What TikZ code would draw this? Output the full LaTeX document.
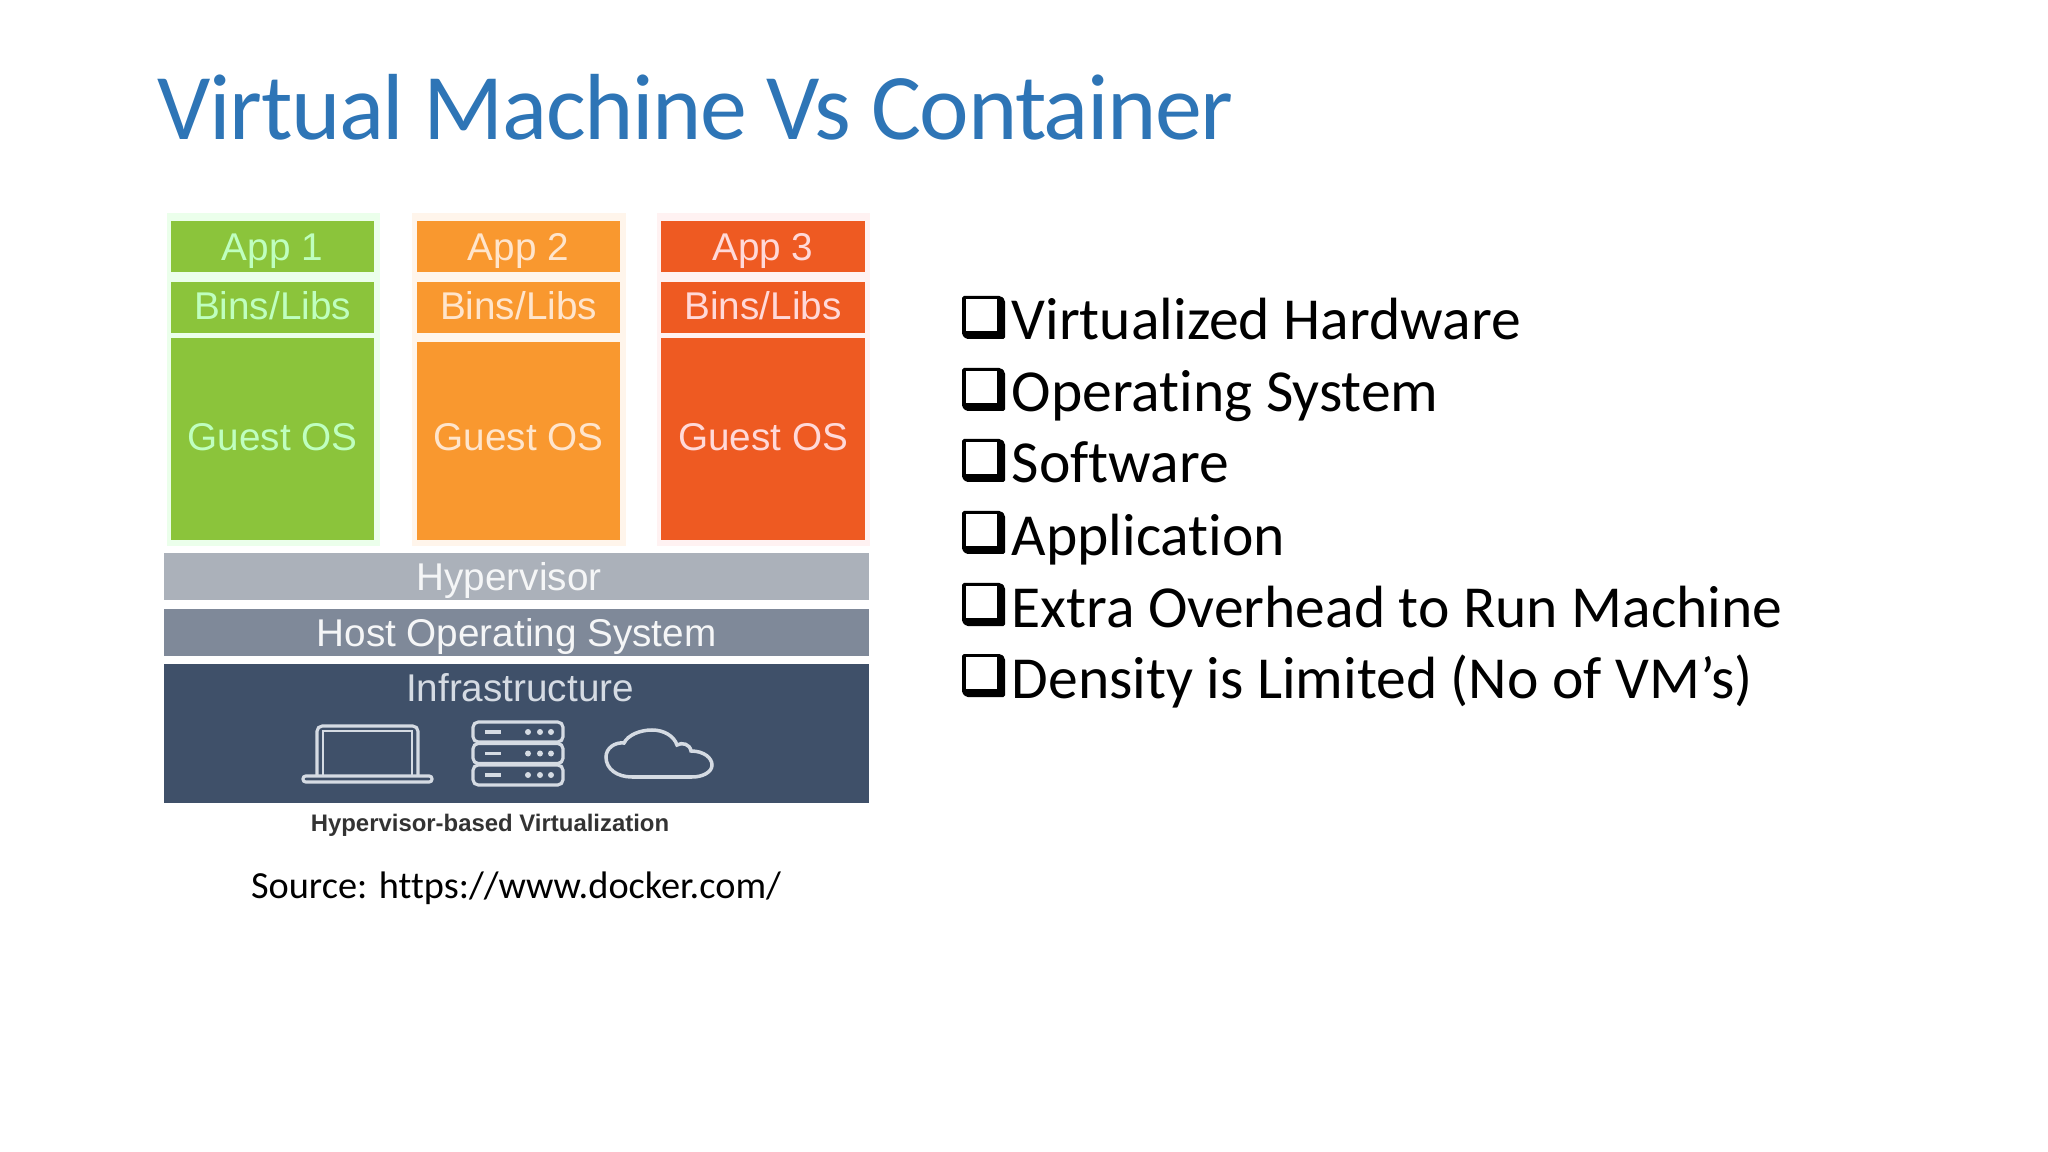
\documentclass[tikz,border=0pt]{standalone}
\usepackage{fontspec}
\setmainfont[Ligatures=NoCommon]{Carlito}
\newfontfamily\imgfont{Liberation Sans}
\definecolor{titleblue}{HTML}{2E75B6}
\definecolor{appgreen}{HTML}{8BC43B}
\definecolor{apporange}{HTML}{F9982F}
\definecolor{appred}{HTML}{EE5A22}
\definecolor{hypergray}{HTML}{ABB1BA}
\definecolor{hostgray}{HTML}{7F8999}
\definecolor{infrablue}{HTML}{3F5069}
\definecolor{icongray}{HTML}{D5DBE3}
\begin{document}
\begin{tikzpicture}
      [x=0.01cm,y=-0.01cm,
       layer box/.style={rectangle,inner sep=0pt,minimum width=7.05cm},
       app box/.style={rectangle,inner sep=0pt,minimum width=2.03cm,text height=8pt,text depth=0pt},
       green text/.style={text=green!25!white,font=\imgfont\fontsize{11}{13}\selectfont},
       orange text/.style={text=orange!20!white,font=\imgfont\fontsize{11}{13}\selectfont},
       red text/.style={text=red!15!white,font=\imgfont\fontsize{11}{13}\selectfont},
       item/.style={anchor=base west,inner sep=0pt,font=\fontsize{16.95}{20}\selectfont},
       chkbox/.pic={
         \fill[black,rounded corners=0.5pt] (0,0) -- (39,0) -- (43,4) -- (43,43) -- (4,43) -- (0,39) -- cycle;
         \fill[white] (3.5,3) rectangle (35,35);
       },
       server row/.pic={
         \draw[icongray,line width=0.9pt,rounded corners=1.5pt] (0,0) rectangle (90,20);
         \draw[icongray,line width=1pt] (12,10) -- (28,10);
         \fill[icongray] (55,10) circle (3);
         \fill[icongray] (67,10) circle (3);
         \fill[icongray] (78,10) circle (3);
       }]
        \useasboundingbox (0,0) rectangle (2048,1152);
        \fill[white] (0,0) rectangle (2048,1152);

        \node[anchor=base west,inner sep=0pt,text=titleblue,font=\addfontfeature{LetterSpace=-1.5}\fontsize{26.7}{32}\selectfont] (title) at (157,140) {Virtual Machine Vs Container};

        % pale edges round the columns
        \fill[green!8!white] (167,213) rectangle (380,546);
        \fill[orange!8!white] (412,213) rectangle (626,546);
        \fill[red!5!white] (657,213) rectangle (870,546);

        \node[app box,fill=appgreen,minimum height=0.51cm,green text] (app1) at (272.5,246.5) {App 1};
        \node[app box,fill=appgreen,minimum height=0.51cm,green text,text height=7pt] (bins1) at (272.5,307.5) {Bins/Libs};
        \node[app box,fill=appgreen,minimum height=2.02cm,green text,text depth=1.6pt] (guest1) at (272.5,439) {Guest OS};

        \node[app box,fill=apporange,minimum height=0.51cm,orange text] (app2) at (518.5,246.5) {App 2};
        \node[app box,fill=apporange,minimum height=0.51cm,orange text,text height=7pt] (bins2) at (518.5,307.5) {Bins/Libs};
        \node[app box,fill=apporange,minimum height=1.98cm,orange text,text depth=2.6pt] (guest2) at (518.5,441) {Guest OS};

        \node[app box,fill=appred,minimum height=0.51cm,red text] (app3) at (763,246.5) {App 3};
        \node[app box,fill=appred,minimum height=0.51cm,red text,text height=7pt] (bins3) at (763,307.5) {Bins/Libs};
        \node[app box,fill=appred,minimum height=2.02cm,red text,text depth=1.6pt] (guest3) at (763,439) {Guest OS};

        \node[layer box,fill=hypergray,minimum height=0.47cm] (hyper) at (516.5,576.5) {};
        \node[text=white!88!hypergray,inner sep=0pt,font=\imgfont\fontsize{11}{13}\selectfont] (hyperlabel) at (509,580) {Hypervisor};
        \node[layer box,fill=hostgray,minimum height=0.47cm,text=white!92!hostgray,text height=8.2pt,text depth=0pt,font=\imgfont\fontsize{11}{13}\selectfont] (host) at (516.5,632.5) {Host Operating System};
        \node[layer box,fill=infrablue,minimum height=1.39cm] (infra) at (516.5,733.5) {};
        \node[text=icongray,inner sep=0pt,font=\imgfont\fontsize{11}{13}\selectfont] (infralabel) at (520,688) {Infrastructure};

        % laptop
        \draw[icongray,line width=0.9pt,rounded corners=1.5pt] (317,775) -- (317,726) -- (418,726) -- (418,775);
        \draw[icongray,line width=0.5pt] (323,775) -- (323,731) -- (412,731) -- (412,775);
        \draw[icongray,line width=0.9pt,rounded corners=0.8pt] (303,776) rectangle (432,782);
        % server
        \pic at (473,722) {server row};
        \pic at (473,743.5) {server row};
        \pic at (473,765) {server row};
        % cloud
        \draw[icongray,line width=1pt] (632,777) .. controls (617,777) and (606,769) .. (606,757) .. controls (606,748) and (615,742) .. (624,743) .. controls (628,735) and (640,730) .. (652,730) .. controls (664,730) and (674,736) .. (677,745) .. controls (682,742) and (690,744) .. (691,751) .. controls (704,751) and (712,758) .. (712,765) .. controls (712,772) and (703,777) .. (692,777) -- cycle;

        \node[text=black!80,inner sep=0pt,font=\imgfont\bfseries\fontsize{6.8}{8}\selectfont] (caption) at (490,825) {Hypervisor-based Virtualization};
        \node[inner sep=0pt,font=\fontsize{10.9}{13}\selectfont] (source) at (516,888) {Source: https://www.docker.com/};

        \pic at (962,296) {chkbox};
        \node[item] (item1) at (1011,340) {Virtualized Hardware};
        \pic at (962,368) {chkbox};
        \node[item] (item2) at (1011,412) {Operating System};
        \pic at (962,439) {chkbox};
        \node[item] (item3) at (1011,483) {Software};
        \pic at (962,511) {chkbox};
        \node[item] (item4) at (1011,555) {Application};
        \pic at (962,583) {chkbox};
        \node[item] (item5) at (1011,627) {Extra Overhead to Run Machine};
        \pic at (962,654) {chkbox};
        \node[item] (item6) at (1011,698) {Density is Limited (No of VM’s)};

      \end{tikzpicture}
\end{document}
